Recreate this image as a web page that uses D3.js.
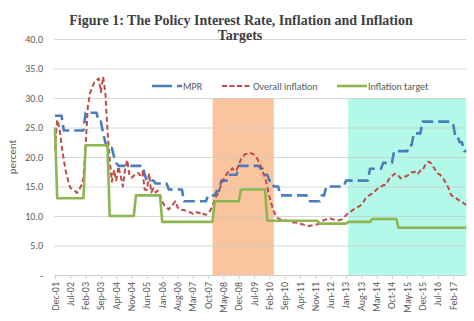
<!DOCTYPE html>
<html><head><meta charset="utf-8">
<script src="https://cdn.jsdelivr.net/npm/d3@7"></script>
<style>
html,body{margin:0;padding:0;background:#fff;}
svg{display:block;}
</style></head>
<body>
<svg id="chart" width="474" height="321"></svg>
<script>
// ---------- DATA (monthly, Dec-01 .. Aug-17) ----------
const firstMonth = "2001-12";
const lastMonth = "2017-08";

const mpr = [
  27,
  27,27,27,24.5,24.5,24.5,24.5,24.5,24.5,24.5,24.5,24.5,
  24.5,27.5,27.5,27.5,27.5,27.5,27.5,26,26,24,22.5,21.5,
  21.5,21.5,20,19,18.5,18.5,18.5,18.5,18.5,18.5,18.5,18.5,
  18.5,18.5,18.5,18.5,17,16,16,16,16,15.5,15.5,15.5,
  15.5,15.5,15.5,14.5,14.5,14.5,14.5,14.5,14.5,14.5,12.5,12.5,
  12.5,12.5,12.5,12.5,12.5,12.5,12.5,12.5,12.5,13.5,13.5,13.5,
  13.5,14.25,14.25,16,16,16,16,17,17,17,17,18.5,
  18.5,18.5,18.5,18.5,18.5,18.5,18.5,18.5,18.5,18,18,17,
  17,16,16,15,15,15,13.5,13.5,13.5,13.5,13.5,13.5,
  13.5,13.5,13.5,13.5,13.5,13.5,13.5,12.5,12.5,12.5,12.5,12.5,
  12.5,13.5,13.5,15,15,15,15,15,15,15,15,15,
  16,16,16,16,16,16,16,16,16,16,16,18,
  18,18,18,18,18,19,19,19,19,19,21,21,
  21,21,21,21,21,22,22,24,24,24,24,26,
  26,26,26,26,26,26,26,26,26,26,26,26,
  26,25.5,23.5,23.5,22.5,22.5,21,21
];

const overallInflation = [
  21.3,
  26.3,25,22,19.5,17.5,16,14.8,14.5,14.3,13.9,14.4,15.2,
  16.5,22,28.5,30.8,31.8,32.7,33,33.3,31,33.6,31,24.5,
  19.5,15.8,17.8,16,18.4,16.8,15,17.8,19.5,16.9,16.5,16.8,
  17.2,17.3,16.9,17.5,14.5,14.4,17.2,14,14.7,14,14.3,13.5,
  12.5,11.8,11.5,11.1,11.6,12,12.5,11.5,11.1,11,11,10.9,
  10.7,10.6,10.4,10.7,10.6,10.5,10.7,10.3,10.2,10.5,10.9,11.8,
  12.8,13.5,14.3,15.3,16.2,16.8,17.4,17.5,18.1,17.6,17.8,18.7,
  19.6,20.1,20.5,20.5,20.7,20.6,20.4,20,19.3,18.5,17.5,16.5,
  15,13.3,12,10.8,10,9.6,9.4,9.4,9.3,9.2,9.1,9,
  8.9,8.9,8.8,8.7,8.6,8.5,8.4,8.3,8.4,8.4,8.5,8.6,
  8.8,9.1,9.3,9.4,9.5,9.6,9.4,9.4,9.3,9.3,9.4,9.8,
  10.1,10.5,10.7,11,11.2,11.5,11.6,11.9,12.4,13,13.3,13.6,
  13.8,14.1,14.5,14.8,15,15.2,15.3,15.8,16.5,16.7,17.1,17.2,
  16.8,16.4,16.4,16.7,16.8,17.1,17.4,17.4,17.6,17.2,17.7,17.7,
  18.5,19,19.2,18.9,18.3,17.7,17.2,17,16.6,16,15.4,14.6,
  13.6,13.3,13.2,12.8,12.6,12.4,12.1,11.9
];

const inflationTarget = [
  25,
  13,13,13,13,13,13,13,13,13,13,13,13,
  13,22,22,22,22,22,22,22,22,22,22,22,
  10,10,10,10,10,10,10,10,10,10,10,10,
  13.5,13.5,13.5,13.5,13.5,13.5,13.5,13.5,13.5,13.5,13.5,13.5,
  9,9,9,9,9,9,9,9,9,9,9,9,
  9,9,9,9,9,9,9,9,9,9,9,9,
  12.5,12.5,12.5,12.5,12.5,12.5,12.5,12.5,12.5,12.5,12.5,12.5,
  14.5,14.5,14.5,14.5,14.5,14.5,14.5,14.5,14.5,14.5,14.5,14.5,
  9.2,9.2,9.2,9.2,9.2,9.2,9.2,9.2,9.2,9.2,9.2,9.2,
  9.2,9.2,9.2,9.2,9.2,9.2,9.2,9.2,9.2,9.2,9.2,9.2,
  8.7,8.7,8.7,8.7,8.7,8.7,8.7,8.7,8.7,8.7,8.7,8.7,
  8.7,9,9,9,9,9,9,9,9,9,9,9,
  9.5,9.5,9.5,9.5,9.5,9.5,9.5,9.5,9.5,9.5,9.5,9.5,
  8,8,8,8,8,8,8,8,8,8,8,8,
  8,8,8,8,8,8,8,8,8,8,8,8,
  8,8,8,8,8,8,8,8
];

// shaded periods
const shadeStart = ["Dec-07", "Feb-13"];
const shadeEnd   = ["Apr-10", "Aug-17"];
const shadeValue = [30, 30];

const tickLabels = ["Dec-01","Jul-02","Feb-03","Sep-03","Apr-04","Nov-04","Jun-05","Jan-06",
  "Aug-06","Mar-07","Oct-07","May-08","Dec-08","Jul-09","Feb-10","Sep-10","Apr-11","Nov-11",
  "Jun-12","Jan-13","Aug-13","Mar-14","Oct-14","May-15","Dec-15","Jul-16","Feb-17"];
const yTicks = [0,5,10,15,20,25,30,35,40];
const seriesNames = ["MPR","Overall inflation","Inflation target"];

// ---------- CHART ----------
(function(){
const fmt = d3.timeFormat("%b-%y");
const parse = d3.timeParse("%Y-%m");
const months = d3.timeMonth.range(parse(firstMonth), d3.timeMonth.offset(parse(lastMonth),1)).map(fmt);

const svg = d3.select("#chart");
const L = 55, R = 466.3, T = 39, B = 275;
const x = d3.scalePoint().domain(months).range([L, R]);
const y = d3.scaleLinear().domain([0,40]).range([B, T]);

const axisFont = "Carlito, Calibri, Lato, 'Open Sans', sans-serif";

const shadeColors = ["#fac59e", "#b3f8e9"];
svg.append("g").selectAll("rect").data(shadeStart).join("rect")
  .attr("x", d => x(d))
  .attr("width", (d,i) => x(shadeEnd[i]) - x(d))
  .attr("y", (d,i) => y(shadeValue[i]))
  .attr("height", (d,i) => y(0) - y(shadeValue[i]))
  .attr("fill", (d,i) => shadeColors[i]);

svg.append("g").attr("transform", `translate(${L-1},0)`)
  .call(d3.axisLeft(y).tickValues(yTicks.filter(v=>v>0)).tickSize(-(R-L+1)).tickFormat(""))
  .call(g => g.select(".domain").remove())
  .call(g => g.selectAll("line").attr("stroke","#c8c8c8").attr("stroke-opacity",0.7).attr("stroke-width",1));

svg.append("g").selectAll("text").data(yTicks).join("text")
  .attr("x", 43).attr("y", d => y(d)).attr("dy","0.35em")
  .attr("text-anchor","end")
  .attr("font-family", axisFont).attr("font-size", 10).attr("fill","#595959")
  .text(d => d === 0 ? "-" : d.toFixed(1));
svg.append("text")
  .attr("transform", "translate(16,157) rotate(-90)")
  .attr("text-anchor","middle")
  .attr("font-family", axisFont).attr("font-size", 11).attr("fill","#595959")
  .text("percent");

const xAxis = d3.axisBottom(x).tickValues(tickLabels).tickSize(4).tickSizeOuter(0).tickFormat("");
svg.append("g").attr("transform", `translate(0,${B})`).call(xAxis)
  .call(g => g.select(".domain").attr("stroke","#d0d0d0").attr("d", `M${L-1},0.5H${R}`))
  .call(g => g.selectAll("line").attr("stroke","#d0d0d0"));
svg.append("g").selectAll("text").data(tickLabels).join("text")
  .attr("transform", d => `translate(${x(d)},282) rotate(-90)`)
  .attr("text-anchor","end").attr("dy","0.35em")
  .attr("font-family", axisFont).attr("font-size", 10).attr("fill","#595959")
  .text(d => d);

const line = d3.line().x((d,i) => x(months[i])).y(d => y(d));
const styles = [
  {data: mpr, color:"#4a7ebb", width:2.6, dash:"11,5"},
  {data: overallInflation, color:"#be4b48", width:2, dash:"5,3"},
  {data: inflationTarget, color:"#8db550", width:2.6, dash:null}
];
styles.forEach(s => {
  svg.append("path").datum(s.data).attr("d", line)
    .attr("fill","none").attr("stroke", s.color).attr("stroke-width", s.width)
    .attr("stroke-dasharray", s.dash).attr("stroke-linejoin","round");
});

const legX = [152, 222, 337];
const lg = svg.append("g").selectAll("g").data(seriesNames).join("g")
  .attr("transform", (d,i) => `translate(${legX[i]},86)`);
lg.append("line").attr("x1",0).attr("x2",30).attr("y1",0).attr("y2",0)
  .attr("stroke",(d,i)=>styles[i].color).attr("stroke-width",(d,i)=>styles[i].width)
  .attr("stroke-dasharray",(d,i)=> i===0 ? "20,5" : (i===1 ? "5,2.5" : null));
lg.append("text").attr("x",31).attr("dy","0.35em")
  .attr("font-family", axisFont).attr("font-size", 10).attr("fill","#595959")
  .text(d => d);

const title = svg.append("text").attr("text-anchor","middle")
  .attr("font-family","'Liberation Serif','Times New Roman',serif").attr("font-weight","bold")
  .attr("font-size",14).attr("fill","#404040");
title.append("tspan").attr("x",241).attr("y",25).text("Figure 1: The Policy Interest Rate, Inflation and Inflation");
title.append("tspan").attr("x",240).attr("y",39.5).text("Targets");
})();
</script>
</body></html>
